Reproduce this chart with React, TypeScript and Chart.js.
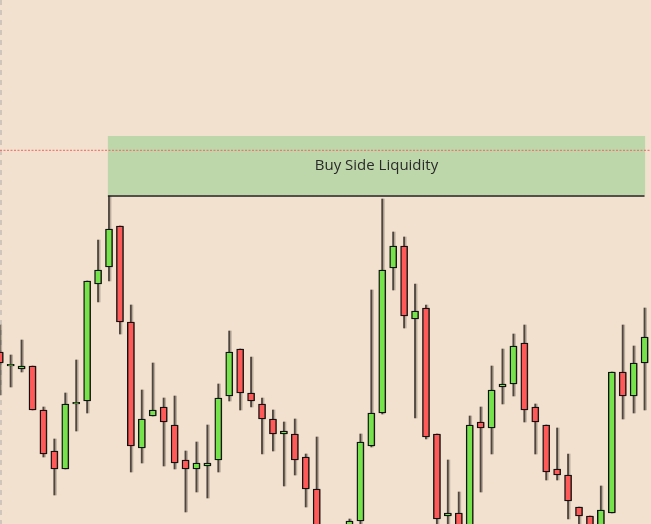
import React, { useEffect, useRef } from "react";
import { Chart, registerables } from "chart.js";

Chart.register(...registerables);

// OHLC values (arbitrary price units), one candle per index 0..59
const opens = [172, 158, 155, 158, 114, 73, 55, 120, 123, 240, 257, 298, 202, 76, 108, 117, 99, 64, 55, 58,
  64, 128, 175, 131, 120, 105, 90, 90, 67, 35, -16, -40, -30, 3, 78, 111, 256, 278, 205, 216,
  90, 8, 11, -16, 102, 96, 137, 140, 181, 117, 99, 55, 49, 17, 8, -11, 11, 152, 128, 161];
const highs = [199, 169, 184, 158, 117, 85, 131, 164, 243, 284, 328, 298, 219, 134, 161, 126, 128, 73, 82, 99,
  140, 193, 175, 167, 126, 114, 102, 105, 70, 87, -10, -20, 5, 90, 234, 325, 292, 287, 240, 219,
  90, 64, 32, 108, 117, 158, 175, 190, 199, 120, 99, 96, 70, 17, 8, 38, 152, 199, 178, 216];
const lows = [129, 137, 152, 114, 67, 29, 55, 93, 111, 222, 243, 190, 52, 61, 108, 58, 55, 12, 32, 26,
  52, 123, 114, 117, 70, 73, 38, 49, 17, -25, -50, -55, -38, -5, 77, 110, 234, 196, 106, 85,
  -5, -5, -20, -20, 32, 70, 120, 128, 102, 70, 44, 44, 5, -6, -20, -15, 11, 105, 111, 114];
const closes = [161, 159.6, 158, 114, 70, 55, 120, 121.6, 243, 254, 295, 202, 78, 105, 114, 102, 61, 55, 61, 61,
  126, 172, 131, 123, 105, 90, 93, 64, 35, -16, -40, -30, 3, 82, 111, 254, 278, 208, 213, 87,
  5, 11, -11, 99, 96, 134, 140, 178, 114, 102, 52, 49, 23, 8, -11, 14, 152, 128, 161, 187];

// Liquidity level / zone
const levelHigh = 328;          // high of candle 10
const levelStart = 9.9;
const levelEnd = 59.05;
const zoneTop = 388;
const zoneBottom = 329;
const zoneLabel = "Buy Side Liquidity";
const redLevel = 373.7;

const GREEN = "#76e34c";
const RED = "#ff5a5a";
const BG = "#f2e1ce";

export default function App() {
  const ref = useRef<HTMLCanvasElement | null>(null);

  useEffect(() => {
    document.body.style.margin = "0";
    document.body.style.background = BG;
    const canvas = ref.current!;
    const idx = opens.map((_, i) => i);
    const bodyColors = idx.map((i) => (closes[i] >= opens[i] ? GREEN : RED));

    const shadowPlugin = {
      id: "candleShadow",
      beforeDatasetDraw(chart: any, args: any) {
        const ds = chart.data.datasets[args.index];
        if (ds._shadow) {
          chart.ctx.save();
          chart.ctx.shadowColor = ds._shadow;
          chart.ctx.shadowOffsetX = 1.5;
          chart.ctx.shadowOffsetY = 0;
          chart.ctx.shadowBlur = 0;
        }
      },
      afterDatasetDraw(chart: any, args: any) {
        const ds = chart.data.datasets[args.index];
        if (ds._shadow) chart.ctx.restore();
      },
    };

    const zonePlugin = {
      id: "zone",
      beforeDatasetsDraw(chart: any) {
        const { ctx, scales } = chart;
        const x = scales.x, y = scales.y;
        const x0 = x.getPixelForValue(levelStart);
        const x1 = x.getPixelForValue(levelEnd);
        const y0 = y.getPixelForValue(zoneTop);
        const y1 = y.getPixelForValue(zoneBottom);
        ctx.save();
        ctx.fillStyle = "#bed7aa";
        ctx.fillRect(x0, y0, x1 - x0, y1 - y0);
        ctx.fillStyle = "#2b2b2b";
        ctx.font = '15px "Open Sans"';
        ctx.textAlign = "center";
        ctx.textBaseline = "middle";
        ctx.fillText(zoneLabel, (x0 + x1) / 2, (y0 + y1) / 2);
        // left dashed border line
        ctx.strokeStyle = "rgba(185,180,175,0.6)";
        ctx.lineWidth = 2;
        ctx.setLineDash([5, 5]);
        ctx.beginPath();
        ctx.moveTo(1, 0);
        ctx.lineTo(1, chart.height);
        ctx.stroke();
        ctx.restore();
      },
    };

    const chart = new Chart(canvas, {
      type: "bar",
      data: {
        datasets: [
          {
            type: "line",
            data: [
              { x: 0.03, y: redLevel },
              { x: 59.59, y: redLevel },
            ],
            borderColor: "rgba(240,100,100,1)",
            borderWidth: 1,
            borderDash: [2, 1.5],
            pointRadius: 0,
            order: 0,
          } as any,
          {
            type: "line",
            data: [
              { x: levelStart, y: levelHigh },
              { x: levelEnd - 0.05, y: levelHigh },
            ],
            borderColor: "#1e1e1e",
            borderWidth: 1.5,
            pointRadius: 0,
            order: 0,
          } as any,
          {
            data: idx.map((i) => ({ x: i, y: [opens[i], closes[i]] })),
            backgroundColor: bodyColors,
            borderColor: "#111111",
            borderWidth: 1.4,
            borderSkipped: false,
            barThickness: 7,
            grouped: false,
            order: 1,
            _shadow: "rgba(40,30,20,0.5)",
          } as any,
          {
            data: idx.map((i) => ({ x: i, y: [lows[i], highs[i]] })),
            backgroundColor: "#4e463f",
            borderWidth: 0,
            barThickness: 1.2,
            grouped: false,
            order: 2,
            _shadow: "rgba(60,50,40,0.3)",
          } as any,
        ],
      },
      options: {
        animation: false,
        responsive: false,
        devicePixelRatio: 1,
        layout: { padding: 0 },
        plugins: {
          legend: { display: false },
          tooltip: { enabled: false },
          title: { display: false },
        },
        scales: {
          x: { type: "linear", min: 0.03, max: 59.59, offset: false, display: false },
          y: { type: "linear", min: 0, max: 524, display: false },
        },
      },
      plugins: [shadowPlugin, zonePlugin],
    } as any);
    return () => chart.destroy();
  }, []);

  return (
    <div style={{ position: "fixed", left: 0, top: 0, width: 651, height: 524, background: BG }}>
      <canvas ref={ref} width={651} height={524} style={{ display: "block", width: 651, height: 524 }} />
    </div>
  );
}
